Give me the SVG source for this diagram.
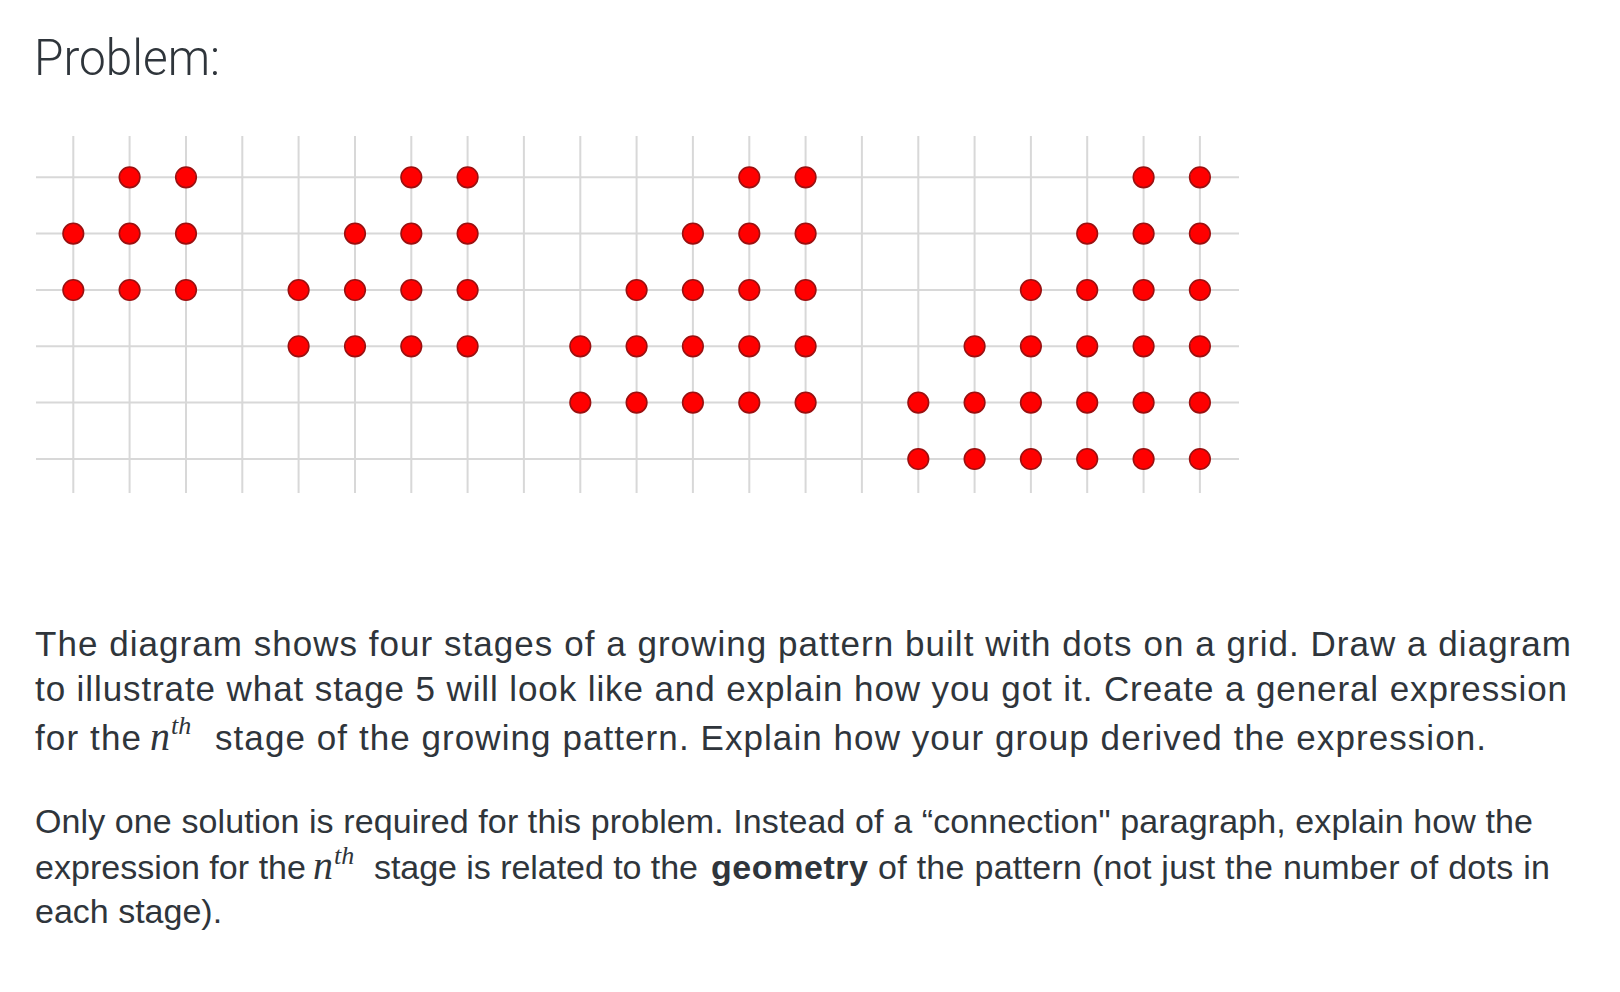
<svg xmlns="http://www.w3.org/2000/svg" xmlns:xlink="http://www.w3.org/1999/xlink" width="1620" height="992" viewBox="0 0 1620 992">
<style>
.bg{fill:#ffffff}
.grid line{stroke:#d8d8d8;stroke-width:2}
.dot{fill:#ff0000;stroke:#9a1010;stroke-width:1.6}
.t{font-family:"Liberation Sans",Arial,sans-serif;font-size:34px;fill:#2f353b}
.p1{font-size:35px}
.title{font-family:Roboto,"Liberation Sans",Arial,sans-serif;font-weight:300;font-size:50px;fill:#2f353b}
.m{font-family:"Liberation Serif","Times New Roman",serif;font-style:italic;fill:#2f353b}
.b{font-weight:bold}
</style>
<defs>
<circle id="d" class="dot" cx="0" cy="0" r="10.3"/>
</defs>
<rect class="bg" x="0" y="0" width="1620" height="992"/>
<text class="title" x="34" y="75" textLength="186" lengthAdjust="spacingAndGlyphs">Problem:</text>
<g id="grid" class="grid">
<line x1="36" y1="177.3" x2="1239" y2="177.3"/>
<line x1="36" y1="233.6" x2="1239" y2="233.6"/>
<line x1="36" y1="290" x2="1239" y2="290"/>
<line x1="36" y1="346.3" x2="1239" y2="346.3"/>
<line x1="36" y1="402.6" x2="1239" y2="402.6"/>
<line x1="36" y1="459" x2="1239" y2="459"/>
<line x1="73.3" y1="136" x2="73.3" y2="493"/>
<line x1="129.6" y1="136" x2="129.6" y2="493"/>
<line x1="186" y1="136" x2="186" y2="493"/>
<line x1="242.3" y1="136" x2="242.3" y2="493"/>
<line x1="298.6" y1="136" x2="298.6" y2="493"/>
<line x1="355" y1="136" x2="355" y2="493"/>
<line x1="411.3" y1="136" x2="411.3" y2="493"/>
<line x1="467.6" y1="136" x2="467.6" y2="493"/>
<line x1="523.9" y1="136" x2="523.9" y2="493"/>
<line x1="580.3" y1="136" x2="580.3" y2="493"/>
<line x1="636.6" y1="136" x2="636.6" y2="493"/>
<line x1="692.9" y1="136" x2="692.9" y2="493"/>
<line x1="749.3" y1="136" x2="749.3" y2="493"/>
<line x1="805.6" y1="136" x2="805.6" y2="493"/>
<line x1="861.9" y1="136" x2="861.9" y2="493"/>
<line x1="918.3" y1="136" x2="918.3" y2="493"/>
<line x1="974.6" y1="136" x2="974.6" y2="493"/>
<line x1="1030.9" y1="136" x2="1030.9" y2="493"/>
<line x1="1087.2" y1="136" x2="1087.2" y2="493"/>
<line x1="1143.6" y1="136" x2="1143.6" y2="493"/>
<line x1="1199.9" y1="136" x2="1199.9" y2="493"/>
</g>
<g id="connectors"></g>
<g id="stage1">
<use href="#d" x="129.6" y="177.3"/><use href="#d" x="186" y="177.3"/>
<use href="#d" x="73.3" y="233.6"/><use href="#d" x="129.6" y="233.6"/><use href="#d" x="186" y="233.6"/>
<use href="#d" x="73.3" y="290"/><use href="#d" x="129.6" y="290"/><use href="#d" x="186" y="290"/>
</g>
<g id="stage2">
<use href="#d" x="411.3" y="177.3"/><use href="#d" x="467.6" y="177.3"/>
<use href="#d" x="355" y="233.6"/><use href="#d" x="411.3" y="233.6"/><use href="#d" x="467.6" y="233.6"/>
<use href="#d" x="298.6" y="290"/><use href="#d" x="355" y="290"/><use href="#d" x="411.3" y="290"/><use href="#d" x="467.6" y="290"/>
<use href="#d" x="298.6" y="346.3"/><use href="#d" x="355" y="346.3"/><use href="#d" x="411.3" y="346.3"/><use href="#d" x="467.6" y="346.3"/>
</g>
<g id="stage3">
<use href="#d" x="749.3" y="177.3"/><use href="#d" x="805.6" y="177.3"/>
<use href="#d" x="692.9" y="233.6"/><use href="#d" x="749.3" y="233.6"/><use href="#d" x="805.6" y="233.6"/>
<use href="#d" x="636.6" y="290"/><use href="#d" x="692.9" y="290"/><use href="#d" x="749.3" y="290"/><use href="#d" x="805.6" y="290"/>
<use href="#d" x="580.3" y="346.3"/><use href="#d" x="636.6" y="346.3"/><use href="#d" x="692.9" y="346.3"/><use href="#d" x="749.3" y="346.3"/><use href="#d" x="805.6" y="346.3"/>
<use href="#d" x="580.3" y="402.6"/><use href="#d" x="636.6" y="402.6"/><use href="#d" x="692.9" y="402.6"/><use href="#d" x="749.3" y="402.6"/><use href="#d" x="805.6" y="402.6"/>
</g>
<g id="stage4">
<use href="#d" x="1143.6" y="177.3"/><use href="#d" x="1199.9" y="177.3"/>
<use href="#d" x="1087.2" y="233.6"/><use href="#d" x="1143.6" y="233.6"/><use href="#d" x="1199.9" y="233.6"/>
<use href="#d" x="1030.9" y="290"/><use href="#d" x="1087.2" y="290"/><use href="#d" x="1143.6" y="290"/><use href="#d" x="1199.9" y="290"/>
<use href="#d" x="974.6" y="346.3"/><use href="#d" x="1030.9" y="346.3"/><use href="#d" x="1087.2" y="346.3"/><use href="#d" x="1143.6" y="346.3"/><use href="#d" x="1199.9" y="346.3"/>
<use href="#d" x="918.3" y="402.6"/><use href="#d" x="974.6" y="402.6"/><use href="#d" x="1030.9" y="402.6"/><use href="#d" x="1087.2" y="402.6"/><use href="#d" x="1143.6" y="402.6"/><use href="#d" x="1199.9" y="402.6"/>
<use href="#d" x="918.3" y="459"/><use href="#d" x="974.6" y="459"/><use href="#d" x="1030.9" y="459"/><use href="#d" x="1087.2" y="459"/><use href="#d" x="1143.6" y="459"/><use href="#d" x="1199.9" y="459"/>
</g>
<g id="para1">
<text class="t p1" x="35" y="656" textLength="1536">The diagram shows four stages of a growing pattern built with dots on a grid. Draw a diagram</text>
<text class="t p1" x="35" y="701" textLength="1532">to illustrate what stage 5 will look like and explain how you got it. Create a general expression</text>
<text class="t p1" x="35" y="750" textLength="106">for the</text>
<text class="m" x="150" y="750" font-size="40">n</text>
<text class="m" x="171" y="734" font-size="26">th</text>
<text class="t p1" x="215" y="750" textLength="1271">stage of the growing pattern. Explain how your group derived the expression.</text>
</g>
<g id="para2">
<text class="t" x="35" y="833" textLength="1498">Only one solution is required for this problem. Instead of a “connection" paragraph, explain how the</text>
<text class="t" x="35" y="879" textLength="271">expression for the</text>
<text class="m" x="313" y="879" font-size="40">n</text>
<text class="m" x="334" y="864" font-size="26">th</text>
<text class="t" x="374" y="879" textLength="324">stage is related to the</text>
<text class="t b" x="711" y="879" textLength="157">geometry</text>
<text class="t" x="878" y="879" textLength="672">of the pattern (not just the number of dots in</text>
<text class="t" x="35" y="923">each stage).</text>
</g>
</svg>
